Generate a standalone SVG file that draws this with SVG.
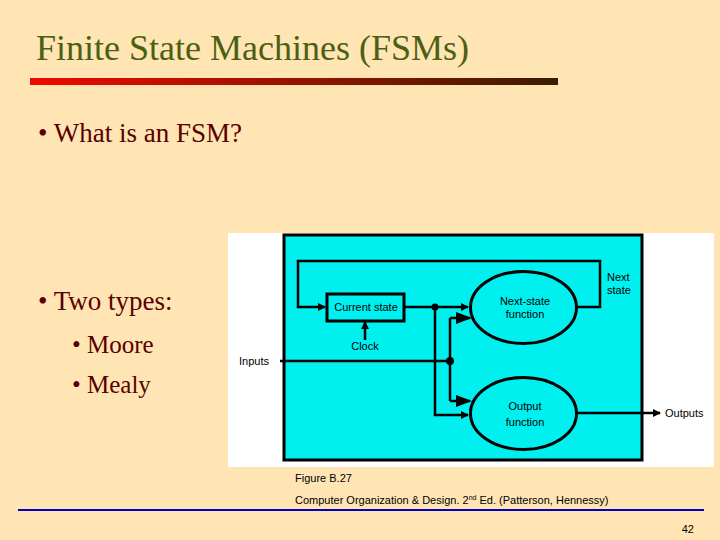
<svg xmlns="http://www.w3.org/2000/svg" width="720" height="540" viewBox="0 0 720 540">
<defs>
<linearGradient id="bar" x1="0" x2="1"><stop offset="0" stop-color="#f00a00"/><stop offset="1" stop-color="#3c1c00"/></linearGradient>
<marker id="a" markerWidth="8" markerHeight="8" refX="7" refY="4" orient="auto" markerUnits="userSpaceOnUse"><path d="M0,0 L8,4 L0,8 z" fill="#000"/></marker>
<marker id="b" markerWidth="16" markerHeight="12" refX="14" refY="6" orient="auto" markerUnits="userSpaceOnUse"><path d="M0,0 L16,6 L0,12 z" fill="#000"/></marker>
</defs>
<style>
.s{font-family:"Liberation Serif",serif}
.d{font-family:"Liberation Sans",Arial,sans-serif;font-size:11px;fill:#000}
.l{fill:none;stroke:#000;stroke-width:2.5}
</style>
<rect width="720" height="540" fill="#ffe5b4"/>
<text x="36" y="60" class="s" font-size="36" fill="#4b6010">Finite State Machines (FSMs)</text>
<rect x="30" y="78" width="528" height="7" fill="url(#bar)"/>
<text x="38" y="142" class="s" font-size="27" fill="#5a0000">• What is an FSM?</text>
<text x="38" y="310" class="s" font-size="27" fill="#5a0000">• Two types:</text>
<text x="72" y="353" class="s" font-size="25" fill="#5a0000">• Moore</text>
<text x="72" y="393" class="s" font-size="25" fill="#5a0000">• Mealy</text>
<rect x="228" y="233" width="486" height="234" fill="#fff"/>
<rect x="284" y="235" width="358" height="225" fill="#00f0f0" stroke="#000" stroke-width="3"/>
<g id="connectors">
<path class="l" d="M577,307 H600 V261 H298 V307 H325" marker-end="url(#a)"/>
<path class="l" d="M404,307 H468" marker-end="url(#a)"/>
<path class="l" d="M435,307 V415 H468" marker-end="url(#a)"/>
<path class="l" d="M280,361 H450"/>
<path class="l" d="M450,318 V401"/>
<path class="l" d="M450,318 H470" marker-end="url(#b)"/>
<path class="l" d="M450,401 H470" marker-end="url(#b)"/>
<path class="l" d="M365,340 V322" marker-end="url(#a)" stroke-width="2"/>
<path class="l" d="M577,413 H660" marker-end="url(#a)" stroke-width="2"/>
<circle cx="435" cy="307" r="3.5"/>
<circle cx="450" cy="361" r="4"/>
</g>
<g id="current"><rect x="327" y="294" width="77" height="27" fill="#00f0f0" stroke="#000" stroke-width="3"/><text x="366" y="311" class="d" text-anchor="middle">Current state</text></g>
<g id="nextfn"><ellipse cx="523.5" cy="307.5" rx="53" ry="36" fill="#00f0f0" stroke="#000" stroke-width="3"/><text x="525" y="305" class="d" text-anchor="middle">Next-state</text><text x="525" y="318" class="d" text-anchor="middle">function</text></g>
<g id="outfn"><ellipse cx="523.5" cy="413.5" rx="53" ry="36" fill="#00f0f0" stroke="#000" stroke-width="3"/><text x="525" y="410" class="d" text-anchor="middle">Output</text><text x="525" y="426" class="d" text-anchor="middle">function</text></g>
<text x="365" y="350" class="d" text-anchor="middle">Clock</text>
<text x="239" y="365" class="d">Inputs</text>
<text x="607" y="281" class="d">Next</text>
<text x="607" y="294" class="d">state</text>
<text x="665" y="417" class="d">Outputs</text>
<text x="295" y="482" class="d">Figure B.27</text>
<text x="295" y="504" class="d">Computer Organization &amp; Design. 2<tspan font-size="7" dy="-4">nd</tspan><tspan dy="4"> Ed. (Patterson, Hennessy)</tspan></text>
<rect x="18" y="509" width="686" height="2" fill="#0000c0"/>
<text x="694" y="533" class="d" font-size="14" text-anchor="end">42</text>
</svg>
